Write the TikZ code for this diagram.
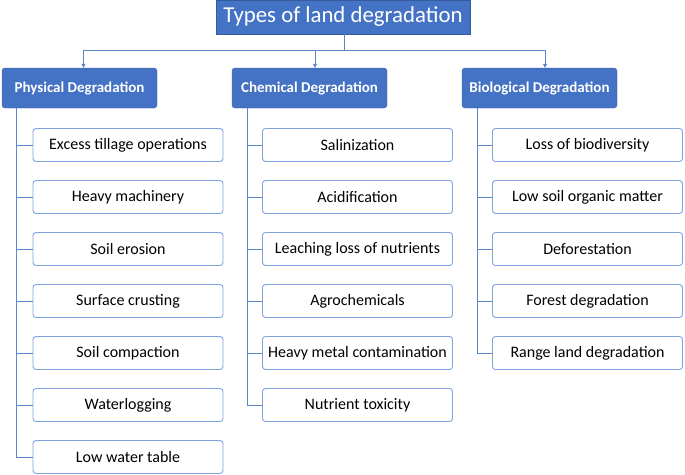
\documentclass[tikz,border=0pt]{standalone}
\usepackage{fontspec}
\setmainfont{Carlito}
\usetikzlibrary{arrows.meta}
\definecolor{hdr}{HTML}{4472C4}
\definecolor{lnk}{HTML}{5B86CC}
\definecolor{bord}{HTML}{7FA2DC}
\tikzset{
  title/.style={fill=hdr, draw=hdr!80!black, line width=0.5pt, text=white, minimum width=254pt, minimum height=34pt, inner sep=0pt, font=\fontsize{22.8}{26}\selectfont},
  head/.style={fill=hdr, draw=hdr!85!black, rounded corners=3pt, text=white, minimum width=155pt, minimum height=40pt, inner sep=0pt, font=\fontsize{15}{18}\selectfont\bfseries},
  item/.style={fill=white, draw=bord, line width=0.9pt, rounded corners=3pt, minimum width=190pt, minimum height=33pt, inner sep=0pt, font=\fontsize{16}{19}\selectfont},
  conn/.style={draw=lnk, line width=0.8pt},
  arr/.style={conn, -{Triangle[length=4pt,width=4pt]}}
}
\begin{document}
\begin{tikzpicture}[x=1pt,y=-1pt]
\useasboundingbox (0,0) rectangle (685,474);
\node[title] (T) at (343,17) {Types of land degradation};
\node[head] (P) at (79.5,88) {Physical Degradation};
\node[head] (C) at (309.5,88) {Chemical Degradation};
\node[head] (B) at (539.5,88) {Biological Degradation};
\coordinate (J) at (344,50);
\draw[conn] (T.south -| J) -- (J);
\draw[arr] (J) -| ([xshift=4pt]P.north);
\draw[arr] (J) -| ([xshift=5.5pt]C.north);
\draw[arr] (J) -| ([xshift=5.5pt]B.north);
% physical
\foreach \t [count=\i] in {Excess tillage operations, Heavy machinery, Soil erosion, Surface crusting, Soil compaction, Waterlogging, Low water table}{
  \node[item] (p\i) at (128,145+52*\i-52) {\t};
}
\foreach \t [count=\i] in {Salinization, Acidification, Leaching loss of nutrients, Agrochemicals, Heavy metal contamination, Nutrient toxicity}{
  \node[item] (c\i) at (357.5,145+52*\i-52) {\t};
}
\foreach \t [count=\i] in {Loss of biodiversity, Low soil organic matter, Deforestation, Forest degradation, Range land degradation}{
  \node[item] (b\i) at (587.5,145+52*\i-52) {\t};
}
\coordinate (Px) at (16,0);
\coordinate (Cx) at (247,0);
\coordinate (Bx) at (477,0);
\draw[conn] (P.south -| Px) -- (p7.west -| Px);
\foreach \i in {1,...,7}{\draw[conn] (p\i.west -| Px) -- (p\i.west);}
\draw[conn] (C.south -| Cx) -- (c6.west -| Cx);
\foreach \i in {1,...,6}{\draw[conn] (c\i.west -| Cx) -- (c\i.west);}
\draw[conn] (B.south -| Bx) -- (b5.west -| Bx);
\foreach \i in {1,...,5}{\draw[conn] (b\i.west -| Bx) -- (b\i.west);}
\end{tikzpicture}
\end{document}
